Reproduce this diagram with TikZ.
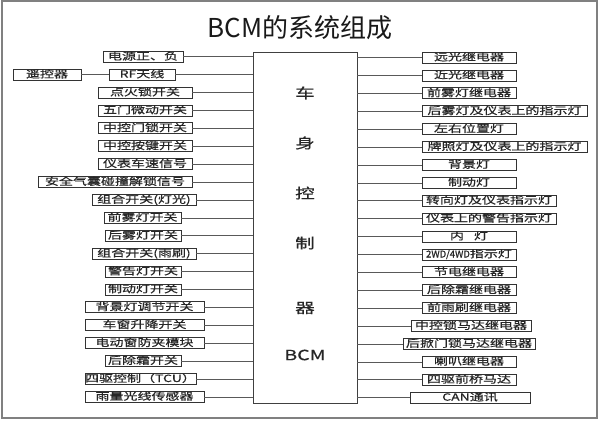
\documentclass[tikz,border=0pt]{standalone}
\usepackage{fontspec}
\usepackage{tikz}
\usetikzlibrary{positioning}
\newfontfamily\partfont[FakeStretch=1.4,FakeBold=0.6]{Noto Sans CJK SC}
\newfontfamily\plainfont[FakeBold=0.6]{Noto Sans CJK SC}
\newfontfamily\titlefont{Noto Sans CJK SC}
\tikzset{
    bcmsys/.style={x=1pt,y=-1pt,line join=miter},
    part/.style={rectangle,draw=black!80,line width=0.8pt,fill=white,
                 font=\partfont\fontsize{10}{11}\selectfont,text=black!85,
                 minimum height=11pt,inner sep=0pt,
                 text height=7.6pt,text depth=1.4pt},
    ecu/.style={rectangle,draw=black!75,line width=0.8pt,
                minimum width=104pt,minimum height=351pt},
    ecutext/.style={font=\partfont\fontsize{14}{16}\selectfont,text=black!85},
    wire/.style={draw=black!65,line width=0.6pt},
    }
\begin{document}
\begin{tikzpicture}[bcmsys]
    \useasboundingbox (0,0) rectangle (600,421);
    \draw[gray,line width=2pt] (2,1) rectangle (597,418);

    \node[font=\titlefont\fontsize{26}{30}\selectfont,text=black!90] (title) at (300,27.5) {BCM的系统组成};

    \node[ecu] (bcm) at (305,227.5) {};
    \node[ecutext] (t1) at (305,93) {车};
    \node[ecutext] (t2) at (305,143) {身};
    \node[ecutext] (t3) at (305,193) {控};
    \node[ecutext] (t4) at (305,243) {制};
    \node[ecutext] (t5) at (305,308) {器};
    \node[ecutext] (t6) at (305,355) {BCM};

    % inputs
    \node[part,minimum width=80pt] (l0) at (143,56.7) {电源正、负};
    \node[part,minimum width=68pt] (remote) at (47,74.6) {遥控器};
    \node[part,minimum width=66pt] (l1) at (142,74.6) {RF天线};
    \node[part,minimum width=94pt] (l2) at (145,92.5) {点火锁开关};
    \node[part,minimum width=94pt] (l3) at (145,110.4) {五门微动开关};
    \node[part,minimum width=94pt] (l4) at (145,128.3) {中控门锁开关};
    \node[part,minimum width=94pt] (l5) at (145,146.2) {中控按键开关};
    \node[part,minimum width=94pt] (l6) at (145,164.1) {仪表车速信号};
    \node[part,minimum width=154pt] (l7) at (115,182.0) {安全气囊碰撞解锁信号};
    \node[part,minimum width=104pt] (l8) at (144,199.9) {组合开关(灯光)};
    \node[part,minimum width=77pt] (l9) at (142.5,217.8) {前雾灯开关};
    \node[part,minimum width=76pt] (l10) at (143,235.7) {后雾灯开关};
    \node[part,minimum width=104pt] (l11) at (144,253.6) {组合开关(雨刷)};
    \node[part,minimum width=76pt] (l12) at (143,271.5) {警告灯开关};
    \node[part,minimum width=76pt] (l13) at (143,289.4) {制动灯开关};
    \node[part,minimum width=119pt] (l14) at (144.5,307.3) {背景灯调节开关};
    \node[part,minimum width=119pt] (l15) at (144.5,325.2) {车窗升降开关};
    \node[part,minimum width=119pt] (l16) at (144.5,343.1) {电动窗防夹模块};
    \node[part,minimum width=76pt] (l17) at (143,361.0) {后除霜开关};
    \node[part,minimum width=111pt] (l18) at (140.5,378.9) {四驱控制（TCU）};
    \node[part,minimum width=119pt] (l19) at (144.5,396.8) {雨量光线传感器};

    % outputs
    \node[part,minimum width=94pt] (r0) at (469,57.5) {远光继电器};
    \node[part,minimum width=94pt] (r1) at (469,75.4) {近光继电器};
    \node[part,minimum width=94pt] (r2) at (469,93.3) {前雾灯继电器};
    \node[part,minimum width=165pt] (r3) at (504.5,111.2) {后雾灯及仪表上的指示灯};
    \node[part,minimum width=94pt] (r4) at (469,129.1) {左右位置灯};
    \node[part,minimum width=165pt] (r5) at (504.5,147.0) {牌照灯及仪表上的指示灯};
    \node[part,minimum width=94pt] (r6) at (469,164.9) {背景灯};
    \node[part,minimum width=94pt] (r7) at (469,182.8) {制动灯};
    \node[part,minimum width=134pt] (r8) at (489,200.7) {转向灯及仪表指示灯};
    \node[part,minimum width=134pt] (r9) at (489,218.6) {仪表上的警告指示灯};
    \node[part,minimum width=94pt] (r10) at (469,236.5) {内\hspace{1em}灯};
    \node[part,minimum width=94pt] (r11) at (469,254.4) {{\plainfont\fontsize{9.5}{11}\selectfont 2WD/4WD}指示灯};
    \node[part,minimum width=94pt] (r12) at (469,272.3) {节电继电器};
    \node[part,minimum width=94pt] (r13) at (469,290.2) {后除霜继电器};
    \node[part,minimum width=94pt] (r14) at (469,308.1) {前雨刷继电器};
    \node[part,minimum width=120pt] (r15) at (471,326.0) {中控锁马达继电器};
    \node[part,minimum width=132pt] (r16) at (469,343.9) {后掀门锁马达继电器};
    \node[part,minimum width=94pt] (r17) at (469,361.8) {喇叭继电器};
    \node[part,minimum width=94pt] (r18) at (469,379.7) {四驱前桥马达};
    \node[part,minimum width=120pt] (r19) at (470,397.6) {CAN通讯};

    \path[wire] (remote.east) -- (l1.west);
    \path[wire] (l0.east) -- (l0.east -| bcm.west);
    \path[wire] (l1.east) -- (l1.east -| bcm.west);
    \path[wire] (l2.east) -- (l2.east -| bcm.west);
    \path[wire] (l3.east) -- (l3.east -| bcm.west);
    \path[wire] (l4.east) -- (l4.east -| bcm.west);
    \path[wire] (l5.east) -- (l5.east -| bcm.west);
    \path[wire] (l6.east) -- (l6.east -| bcm.west);
    \path[wire] (l7.east) -- (l7.east -| bcm.west);
    \path[wire] (l8.east) -- (l8.east -| bcm.west);
    \path[wire] (l9.east) -- (l9.east -| bcm.west);
    \path[wire] (l10.east) -- (l10.east -| bcm.west);
    \path[wire] (l11.east) -- (l11.east -| bcm.west);
    \path[wire] (l12.east) -- (l12.east -| bcm.west);
    \path[wire] (l13.east) -- (l13.east -| bcm.west);
    \path[wire] (l14.east) -- (l14.east -| bcm.west);
    \path[wire] (l15.east) -- (l15.east -| bcm.west);
    \path[wire] (l16.east) -- (l16.east -| bcm.west);
    \path[wire] (l17.east) -- (l17.east -| bcm.west);
    \path[wire] (l18.east) -- (l18.east -| bcm.west);
    \path[wire] (l19.east) -- (l19.east -| bcm.west);

    \path[wire] (r0.west -| bcm.east) -- (r0.west);
    \path[wire] (r1.west -| bcm.east) -- (r1.west);
    \path[wire] (r2.west -| bcm.east) -- (r2.west);
    \path[wire] (r3.west -| bcm.east) -- (r3.west);
    \path[wire] (r4.west -| bcm.east) -- (r4.west);
    \path[wire] (r5.west -| bcm.east) -- (r5.west);
    \path[wire] (r6.west -| bcm.east) -- (r6.west);
    \path[wire] (r7.west -| bcm.east) -- (r7.west);
    \path[wire] (r8.west -| bcm.east) -- (r8.west);
    \path[wire] (r9.west -| bcm.east) -- (r9.west);
    \path[wire] (r10.west -| bcm.east) -- (r10.west);
    \path[wire] (r11.west -| bcm.east) -- (r11.west);
    \path[wire] (r12.west -| bcm.east) -- (r12.west);
    \path[wire] (r13.west -| bcm.east) -- (r13.west);
    \path[wire] (r14.west -| bcm.east) -- (r14.west);
    \path[wire] (r15.west -| bcm.east) -- (r15.west);
    \path[wire] (r16.west -| bcm.east) -- (r16.west);
    \path[wire] (r17.west -| bcm.east) -- (r17.west);
    \path[wire] (r18.west -| bcm.east) -- (r18.west);
    \path[wire] (r19.west -| bcm.east) -- (r19.west);
\end{tikzpicture}
\end{document}
